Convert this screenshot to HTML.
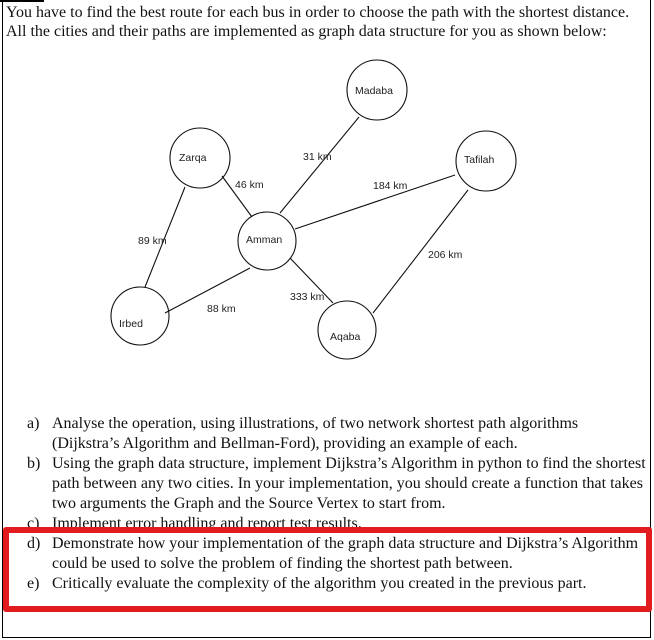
<!DOCTYPE html>
<html><head><meta charset="utf-8"><style>
body{margin:0;width:654px;height:640px;background:#fff;position:relative;overflow:hidden;font-family:"Liberation Serif",serif;color:#111}
.t{position:absolute;font-size:16px;white-space:nowrap;line-height:1}
</style></head><body>
<div style="position:absolute;left:0;top:0;width:44px;height:2px;background:#000"></div>
<div style="position:absolute;left:2px;top:0;width:1px;height:638px;background:#000"></div>
<div style="position:absolute;left:650px;top:0;width:1px;height:638px;background:#000"></div>
<div style="position:absolute;left:2px;top:637px;width:649px;height:1px;background:#000"></div>

<div class="t" style="left:6px;top:5px">You have to find the best route for each bus in order to choose the path with the shortest distance.</div>
<div class="t" style="left:6px;top:24px">All the cities and their paths are implemented as graph data structure for you as shown below:</div>

<svg width="654" height="400" style="position:absolute;left:0;top:0" font-family="Liberation Sans, sans-serif" font-size="10.5" fill="#222">
<g stroke="#111" stroke-width="1.1" fill="none">
<line x1="185" y1="187" x2="145" y2="287"/>
<line x1="222" y1="176" x2="252" y2="217"/>
<line x1="359" y1="117" x2="280" y2="213"/>
<line x1="455" y1="175" x2="295" y2="229"/>
<line x1="468" y1="190" x2="373" y2="313"/>
<line x1="290" y1="258" x2="333" y2="303"/>
<line x1="250" y1="268" x2="165" y2="313"/>
<circle cx="377" cy="90" r="30"/>
<circle cx="200" cy="158" r="30"/>
<circle cx="486" cy="161" r="30"/>
<circle cx="267" cy="241" r="29"/>
<circle cx="140" cy="316" r="29"/>
<circle cx="347" cy="330" r="29"/>
</g>
<text x="355" y="94">Madaba</text>
<text x="179" y="161">Zarqa</text>
<text x="464" y="163">Tafilah</text>
<text x="246" y="243">Amman</text>
<text x="119" y="327">Irbed</text>
<text x="330" y="340">Aqaba</text>
<text x="303" y="160">31 km</text>
<text x="235" y="188">46 km</text>
<text x="373" y="189">184 km</text>
<text x="138" y="244">89 km</text>
<text x="428" y="258">206 km</text>
<text x="290" y="300">333 km</text>
<text x="207" y="312">88 km</text>
</svg>

<div class="t" style="left:27px;top:416px">a)</div><div class="t" style="left:52px;top:416px">Analyse the operation, using illustrations, of two network shortest path algorithms</div>
<div class="t" style="left:52px;top:436px">(Dijkstra’s Algorithm and Bellman-Ford), providing an example of each.</div>
<div class="t" style="left:27px;top:456px">b)</div><div class="t" style="left:52px;top:456px">Using the graph data structure, implement Dijkstra’s Algorithm in python to find the shortest</div>
<div class="t" style="left:52px;top:476px">path between any two cities. In your implementation, you should create a function that takes</div>
<div class="t" style="left:52px;top:496px">two arguments the Graph and the Source Vertex to start from.</div>
<div class="t" style="left:27px;top:516px">c)</div><div class="t" style="left:52px;top:516px">Implement error handling and report test results.</div>
<div class="t" style="left:27px;top:536px">d)</div><div class="t" style="left:52px;top:536px">Demonstrate how your implementation of the graph data structure and Dijkstra’s Algorithm</div>
<div class="t" style="left:52px;top:556px">could be used to solve the problem of finding the shortest path between.</div>
<div class="t" style="left:27px;top:576px">e)</div><div class="t" style="left:52px;top:576px">Critically evaluate the complexity of the algorithm you created in the previous part.</div>

<div style="position:absolute;left:3px;top:527px;width:637px;height:73px;border:6px solid #e21b1f;border-radius:3px;background:transparent"></div>
</body></html>
